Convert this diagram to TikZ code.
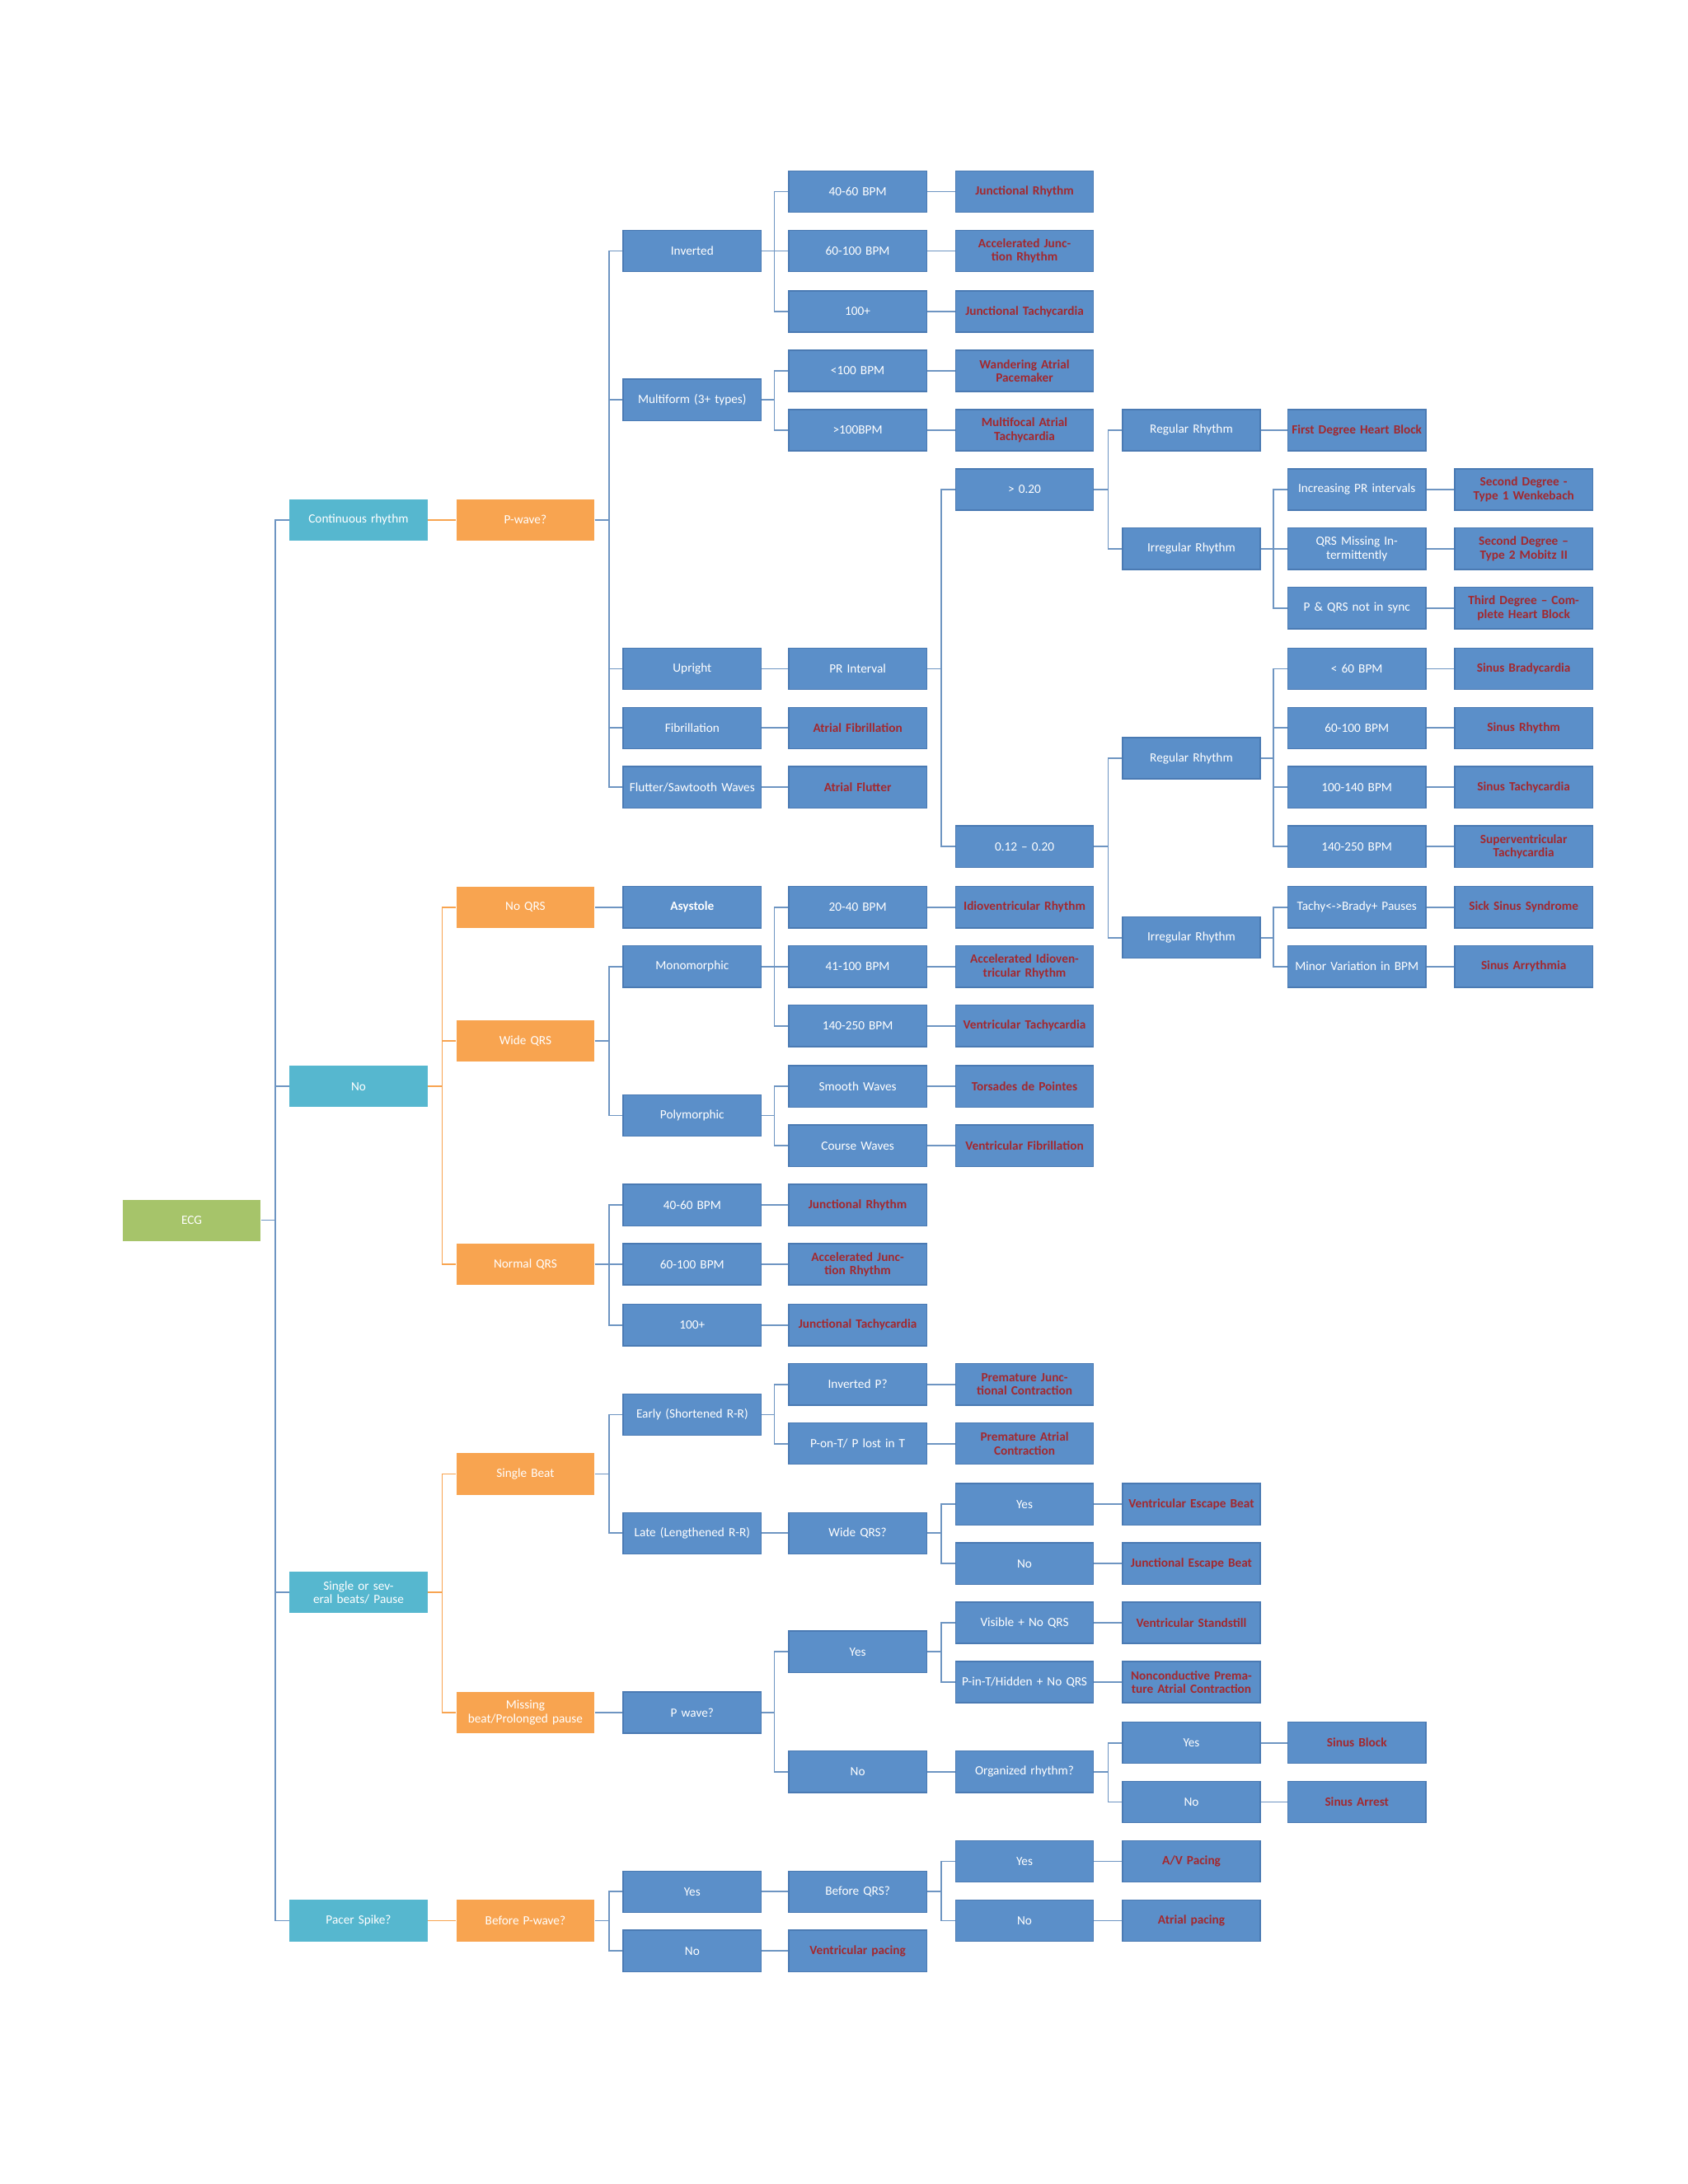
\documentclass[tikz,border=0pt]{standalone}
\usepackage{fontspec}
\setmainfont{Carlito}
\definecolor{bl}{HTML}{5B8FC9}
\definecolor{blb}{HTML}{4A7AB3}
\definecolor{tl}{HTML}{56B7CF}
\definecolor{og}{HTML}{F8A450}
\definecolor{gr}{HTML}{A6C46A}
\definecolor{rt}{HTML}{A3282E}
\begin{document}
\begin{tikzpicture}[x=0.02cm,y=-0.02cm,
 box/.style={minimum width=2cm,minimum height=0.6cm,text width=1.95cm,align=center,inner sep=0pt,font=\fontsize{5.2}{5.6}\selectfont,text=white},
 b/.style={box,fill=bl,draw=blb,line width=0.5pt},
 r/.style={b,text=rt,font=\fontsize{5.2}{5.6}\selectfont\bfseries},
 t/.style={box,fill=tl},
 o/.style={box,fill=og},
 g/.style={box,fill=gr},
 ln/.style={draw=blb!80,line width=0.6pt},
 lo/.style={draw=og,line width=0.6pt}]
\useasboundingbox (0,0) rectangle (1224,1584);
\node[g] (ecg) at (139,885) {ECG};
\node[t] (cont) at (260,377) {Continuous rhythm};
\node[t] (no) at (260,788) {No};
\node[t] (single) at (260,1155) {Single or several beats/ Pause};
\node[t] (pacer) at (260,1393) {Pacer Spike?};
\node[o] (pw) at (381,377) {P-wave?};
\node[o] (noqrs) at (381,658) {No QRS};
\node[o] (wide) at (381,755) {Wide QRS};
\node[o] (normal) at (381,917) {Normal QRS};
\node[o] (sb) at (381,1069) {Single Beat};
\node[o] (miss) at (381,1242) {Missing beat/Prolonged pause};
\node[o] (bpw) at (381,1393) {Before P-wave?};
% col3
\node[b] (inv) at (502,182) {Inverted};
\node[b] (multi) at (502,290) {Multiform (3+ types)};
\node[b] (upr) at (502,485) {Upright};
\node[b] (fib) at (502,528) {Fibrillation};
\node[b] (flut) at (502,571) {Flutter/Sawtooth Waves};
\node[b,font=\fontsize{5.2}{5.6}\selectfont\bfseries] (asy) at (502,658) {Asystole};
\node[b] (mono) at (502,701) {Monomorphic};
\node[b] (poly) at (502,809) {Polymorphic};
\node[b] (q1) at (502,874) {40-60 BPM};
\node[b] (q2) at (502,917) {60-100 BPM};
\node[b] (q3) at (502,961) {100+};
\node[b] (early) at (502,1026) {Early (Shortened R-R)};
\node[b] (late) at (502,1112) {Late (Lengthened R-R)};
\node[b] (pwq) at (502,1242) {P wave?};
\node[b] (ys) at (502,1372) {Yes};
\node[b] (nn) at (502,1415) {No};
% col4
\node[b] (i1) at (622,139) {40-60 BPM};
\node[b] (i2) at (622,182) {60-100 BPM};
\node[b] (i3) at (622,226) {100+};
\node[b] (m1) at (622,269) {<100 BPM};
\node[b] (m2) at (622,312) {>100BPM};
\node[b] (pri) at (622,485) {PR Interval};
\node[r] (af) at (622,528) {Atrial Fibrillation};
\node[r] (afl) at (622,571) {Atrial Flutter};
\node[b] (v1) at (622,658) {20-40 BPM};
\node[b] (v2) at (622,701) {41-100 BPM};
\node[b] (v3) at (622,744) {140-250 BPM};
\node[b] (sw) at (622,788) {Smooth Waves};
\node[b] (cw) at (622,831) {Course Waves};
\node[r] (qr1) at (622,874) {Junctional Rhythm};
\node[r] (qr2) at (622,917) {Accelerated Junction Rhythm};
\node[r] (qr3) at (622,961) {Junctional Tachycardia};
\node[b] (ip) at (622,1004) {Inverted P?};
\node[b] (pot) at (622,1047) {P-on-T/ P lost in T};
\node[b] (wq) at (622,1112) {Wide QRS?};
\node[b] (py) at (622,1198) {Yes};
\node[b] (pn) at (622,1285) {No};
\node[b] (bq) at (622,1372) {Before QRS?};
\node[r] (vp) at (622,1415) {Ventricular pacing};
% col5
\node[r] (ir1) at (743,139) {Junctional Rhythm};
\node[r] (ir2) at (743,182) {Accelerated Junction Rhythm};
\node[r] (ir3) at (743,226) {Junctional Tachycardia};
\node[r] (mr1) at (743,269) {Wandering Atrial Pacemaker};
\node[r] (mr2) at (743,312) {Multifocal Atrial Tachycardia};
\node[b] (g20) at (743,355) {> 0.20};
\node[b] (g12) at (743,614) {0.12 – 0.20};
\node[r] (vr1) at (743,658) {Idioventricular Rhythm};
\node[r] (vr2) at (743,701) {Accelerated Idioventricular Rhythm};
\node[r] (vr3) at (743,744) {Ventricular Tachycardia};
\node[r] (tdp) at (743,788) {Torsades de Pointes};
\node[r] (vf) at (743,831) {Ventricular Fibrillation};
\node[r] (pjc) at (743,1004) {Premature Junctional Contraction};
\node[r] (pac) at (743,1047) {Premature Atrial Contraction};
\node[b] (wy) at (743,1091) {Yes};
\node[b] (wn) at (743,1134) {No};
\node[b] (vnq) at (743,1177) {Visible + No QRS};
\node[b] (pin) at (743,1220) {P-in-T/Hidden + No QRS};
\node[b] (org) at (743,1285) {Organized rhythm?};
\node[b] (by) at (743,1350) {Yes};
\node[b] (bn) at (743,1393) {No};
% col6
\node[b] (rr1) at (864,312) {Regular Rhythm};
\node[b] (irr1) at (864,398) {Irregular Rhythm};
\node[b] (rr2) at (864,550) {Regular Rhythm};
\node[b] (irr2) at (864,680) {Irregular Rhythm};
\node[r] (veb) at (864,1091) {Ventricular Escape Beat};
\node[r] (jeb) at (864,1134) {Junctional Escape Beat};
\node[r] (vs) at (864,1177) {Ventricular Standstill};
\node[r] (npac) at (864,1220) {Nonconductive Premature Atrial Contraction};
\node[b] (oy) at (864,1264) {Yes};
\node[b] (on) at (864,1307) {No};
\node[r] (avp) at (864,1350) {A/V Pacing};
\node[r] (ap) at (864,1393) {Atrial pacing};
% col7
\node[r] (fdhb) at (984,312) {First Degree Heart Block};
\node[b] (ipr) at (984,355) {Increasing PR intervals};
\node[b] (qrsm) at (984,398) {QRS Missing Intermittently};
\node[b] (pqrs) at (984,441) {P \& QRS not in sync};
\node[b] (s60) at (984,485) {< 60 BPM};
\node[b] (s100) at (984,528) {60-100 BPM};
\node[b] (s140) at (984,571) {100-140 BPM};
\node[b] (s250) at (984,614) {140-250 BPM};
\node[b] (tb) at (984,658) {Tachy<->Brady+ Pauses};
\node[b] (mv) at (984,701) {Minor Variation in BPM};
\node[r] (sbl) at (984,1264) {Sinus Block};
\node[r] (sar) at (984,1307) {Sinus Arrest};
% col8
\node[r] (sd1) at (1105,355) {Second Degree - Type 1 Wenkebach};
\node[r] (sd2) at (1105,398) {Second Degree – Type 2 Mobitz II};
\node[r] (td) at (1105,441) {Third Degree – Complete Heart Block};
\node[r] (sbr) at (1105,485) {Sinus Bradycardia};
\node[r] (srh) at (1105,528) {Sinus Rhythm};
\node[r] (stc) at (1105,571) {Sinus Tachycardia};
\node[r] (svt) at (1105,614) {Superventricular Tachycardia};
\node[r] (sss) at (1105,658) {Sick Sinus Syndrome};
\node[r] (sa) at (1105,701) {Sinus Arrythmia};
% connectors
\foreach \p/\c in {ecg/cont,ecg/no,ecg/single,ecg/pacer,
 pw/inv,pw/multi,pw/upr,pw/fib,pw/flut,inv/i1,inv/i2,inv/i3,i1/ir1,i2/ir2,i3/ir3,
 multi/m1,multi/m2,m1/mr1,m2/mr2,upr/pri,pri/g20,pri/g12,g20/rr1,g20/irr1,rr1/fdhb,
 irr1/ipr,irr1/qrsm,irr1/pqrs,ipr/sd1,qrsm/sd2,pqrs/td,
 g12/rr2,g12/irr2,rr2/s60,rr2/s100,rr2/s140,rr2/s250,s60/sbr,s100/srh,s140/stc,s250/svt,
 irr2/tb,irr2/mv,tb/sss,mv/sa,fib/af,flut/afl,
 noqrs/asy,wide/mono,wide/poly,mono/v1,mono/v2,mono/v3,v1/vr1,v2/vr2,v3/vr3,poly/sw,poly/cw,sw/tdp,cw/vf,
 normal/q1,normal/q2,normal/q3,q1/qr1,q2/qr2,q3/qr3,
 sb/early,sb/late,early/ip,early/pot,ip/pjc,pot/pac,late/wq,wq/wy,wq/wn,wy/veb,wn/jeb,
 miss/pwq,pwq/py,pwq/pn,py/vnq,py/pin,vnq/vs,pin/npac,pn/org,org/oy,org/on,oy/sbl,on/sar,
 bpw/ys,bpw/nn,ys/bq,bq/by,bq/bn,by/avp,bn/ap,nn/vp}
 {\draw[ln] (\p.east) -| ([xshift=-0.2cm]\c.west) -- (\c.west);}
\foreach \p/\c in {cont/pw,no/noqrs,no/wide,no/normal,single/sb,single/miss,pacer/bpw}
 {\draw[lo] (\p.east) -| ([xshift=-0.2cm]\c.west) -- (\c.west);}
\end{tikzpicture}
\end{document}
